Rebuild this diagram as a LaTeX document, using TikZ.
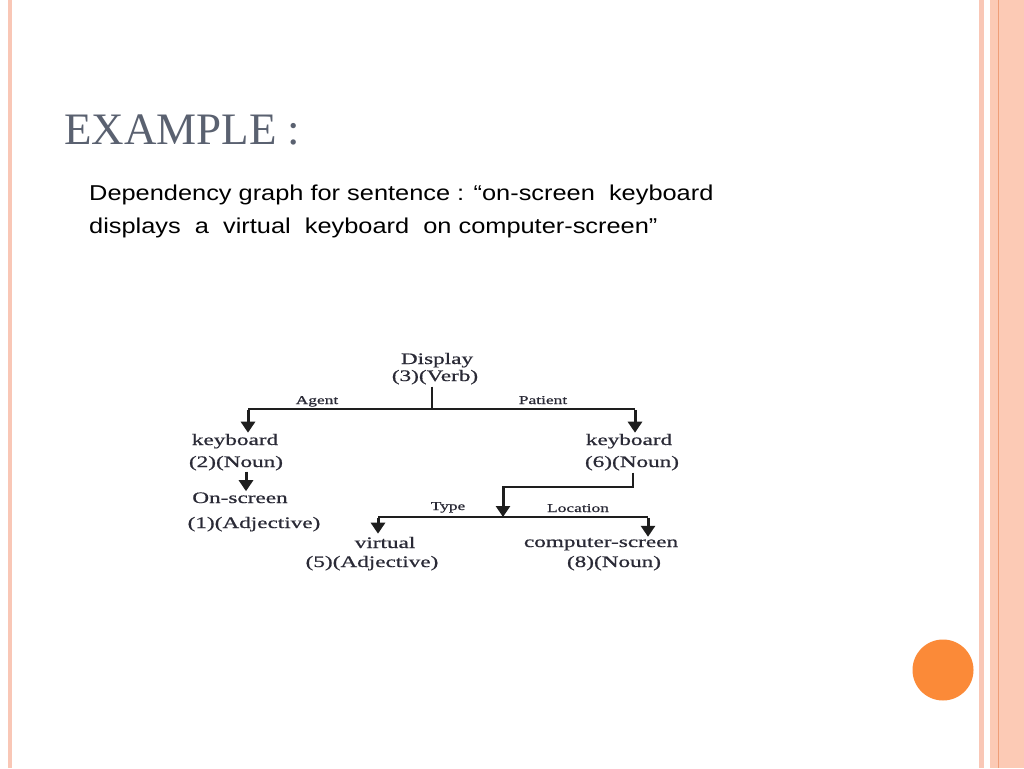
\documentclass[tikz,border=0pt]{standalone}
\usepackage{fontspec}
\usepackage{graphicx}
\setmainfont{Liberation Serif}
\newfontfamily\arialf{Liberation Sans}
\newfontfamily\diagf[FakeBold=0.6]{Liberation Serif}
\usetikzlibrary{arrows.meta}
\definecolor{pinkbar}{HTML}{F9C7B6}
\definecolor{pinkfill}{HTML}{FCCAB5}
\definecolor{pinkline}{HTML}{EF9E78}
\definecolor{dotorange}{HTML}{FB8A38}
\definecolor{titlegray}{HTML}{5A6170}
\definecolor{diagtext}{HTML}{2A2A36}
\definecolor{diagline}{HTML}{1E1E1E}
\newcommand{\sx}[1]{\scalebox{1.45}[1]{#1}}
\newcommand{\bx}[1]{\scalebox{1.18}[1]{#1}}
\tikzset{
  wd/.style={font=\diagf\fontsize{16}{18}\selectfont, text=diagtext, inner sep=0pt, anchor=base},
  lbl/.style={font=\diagf\fontsize{12}{14}\selectfont, text=diagtext, inner sep=0pt, anchor=base},
  ln/.style={draw=diagline, line width=1.8pt},
  arr/.style={draw=diagline, fill=diagline, line width=3pt, -{Triangle[width=14pt,length=11pt]}},
  body/.style={anchor=base west, inner sep=0pt, font=\arialf\fontsize{21.5}{25}\selectfont},
}
\begin{document}
\begin{tikzpicture}[x=1pt,y=-1pt]
\useasboundingbox (0,0) rectangle (1024,768);
\fill[white] (0,0) rectangle (1024,768);
% side decorations
\fill[pinkbar] (8,0) rectangle (12,768);
\fill[pinkbar] (979,0) rectangle (984,768);
\fill[pinkfill] (990,0) rectangle (1024,768);
\fill[pinkline] (997.5,0) rectangle (999,768);
\fill[dotorange] (943,670) circle (30.5);
% title and text
\node[anchor=base west, inner sep=0pt, text=titlegray, font=\fontsize{45}{50}\selectfont] (title) at (64,144) {EXAMPLE :};
\node[body] (line1) at (89,200) {\bx{Dependency graph for sentence : “on-screen\ \ keyboard}};
\node[body] (line2) at (89,233) {\bx{displays\ \ a\ \ virtual\ \ keyboard\ \ on computer-screen”}};
% diagram words
\node[wd] (disp) at (437,364) {\sx{Display}};
\node[wd] (dispb) at (435,381) {\sx{(3)(Verb)}};
\node[wd] (kbL) at (235,445) {\sx{keyboard}};
\node[wd] (kbLb) at (236,467) {\sx{(2)(Noun)}};
\node[wd] (ons) at (240,503) {\sx{On-screen}};
\node[wd] (onsb) at (254,528) {\sx{(1)(Adjective)}};
\node[wd] (kbR) at (629,445) {\sx{keyboard}};
\node[wd] (kbRb) at (632,467) {\sx{(6)(Noun)}};
\node[wd] (virt) at (385,548) {\sx{virtual}};
\node[wd] (virtb) at (372,567) {\sx{(5)(Adjective)}};
\node[wd] (comp) at (601,547) {\sx{computer-screen}};
\node[wd] (compb) at (614,567) {\sx{(8)(Noun)}};
\node[lbl] (agent) at (317,404) {\sx{Agent}};
\node[lbl] (patient) at (543,404) {\sx{Patient}};
\node[lbl] (type) at (448,510) {\sx{Type}};
\node[lbl] (loc) at (578,512) {\sx{Location}};
% junction coordinates
\coordinate (cV) at (432,0);
\coordinate (jL) at (248,409);
\coordinate (jR) at (635,409);
\coordinate (cA) at (246,0);
\coordinate (cR) at (633,0);
\coordinate (jM) at (503,487);
\coordinate (hL) at (378,517);
\coordinate (hR) at (648,517);
\coordinate (hM) at (503,517);
% connectors
\draw[ln] ([yshift=-2pt]cV |- dispb.south) -- (cV |- jL);
\draw[ln] (jL) -- (jR);
\draw[arr] ([yshift=-0.9pt]jL) -- ([yshift=1pt]jL |- kbL.north);
\draw[arr] ([yshift=-0.9pt]jR) -- ([yshift=1pt]jR |- kbR.north);
\draw[arr] ([yshift=-1pt]cA |- kbLb.south) -- ([yshift=1pt]cA |- ons.north);
\draw[ln] ([yshift=-2pt]cR |- kbRb.south) -- (cR |- jM) -- ([xshift=-0.9pt]jM);
\draw[arr] ([yshift=-0.9pt]jM) -- (hM);
\draw[ln] (hL) -- (hR);
\draw[arr] ([yshift=-0.9pt]hL) -- ([yshift=3pt]hL |- virt.north);
\draw[arr] ([yshift=-0.9pt]hR) -- ([yshift=1pt]hR |- comp.north);
\end{tikzpicture}
\end{document}
